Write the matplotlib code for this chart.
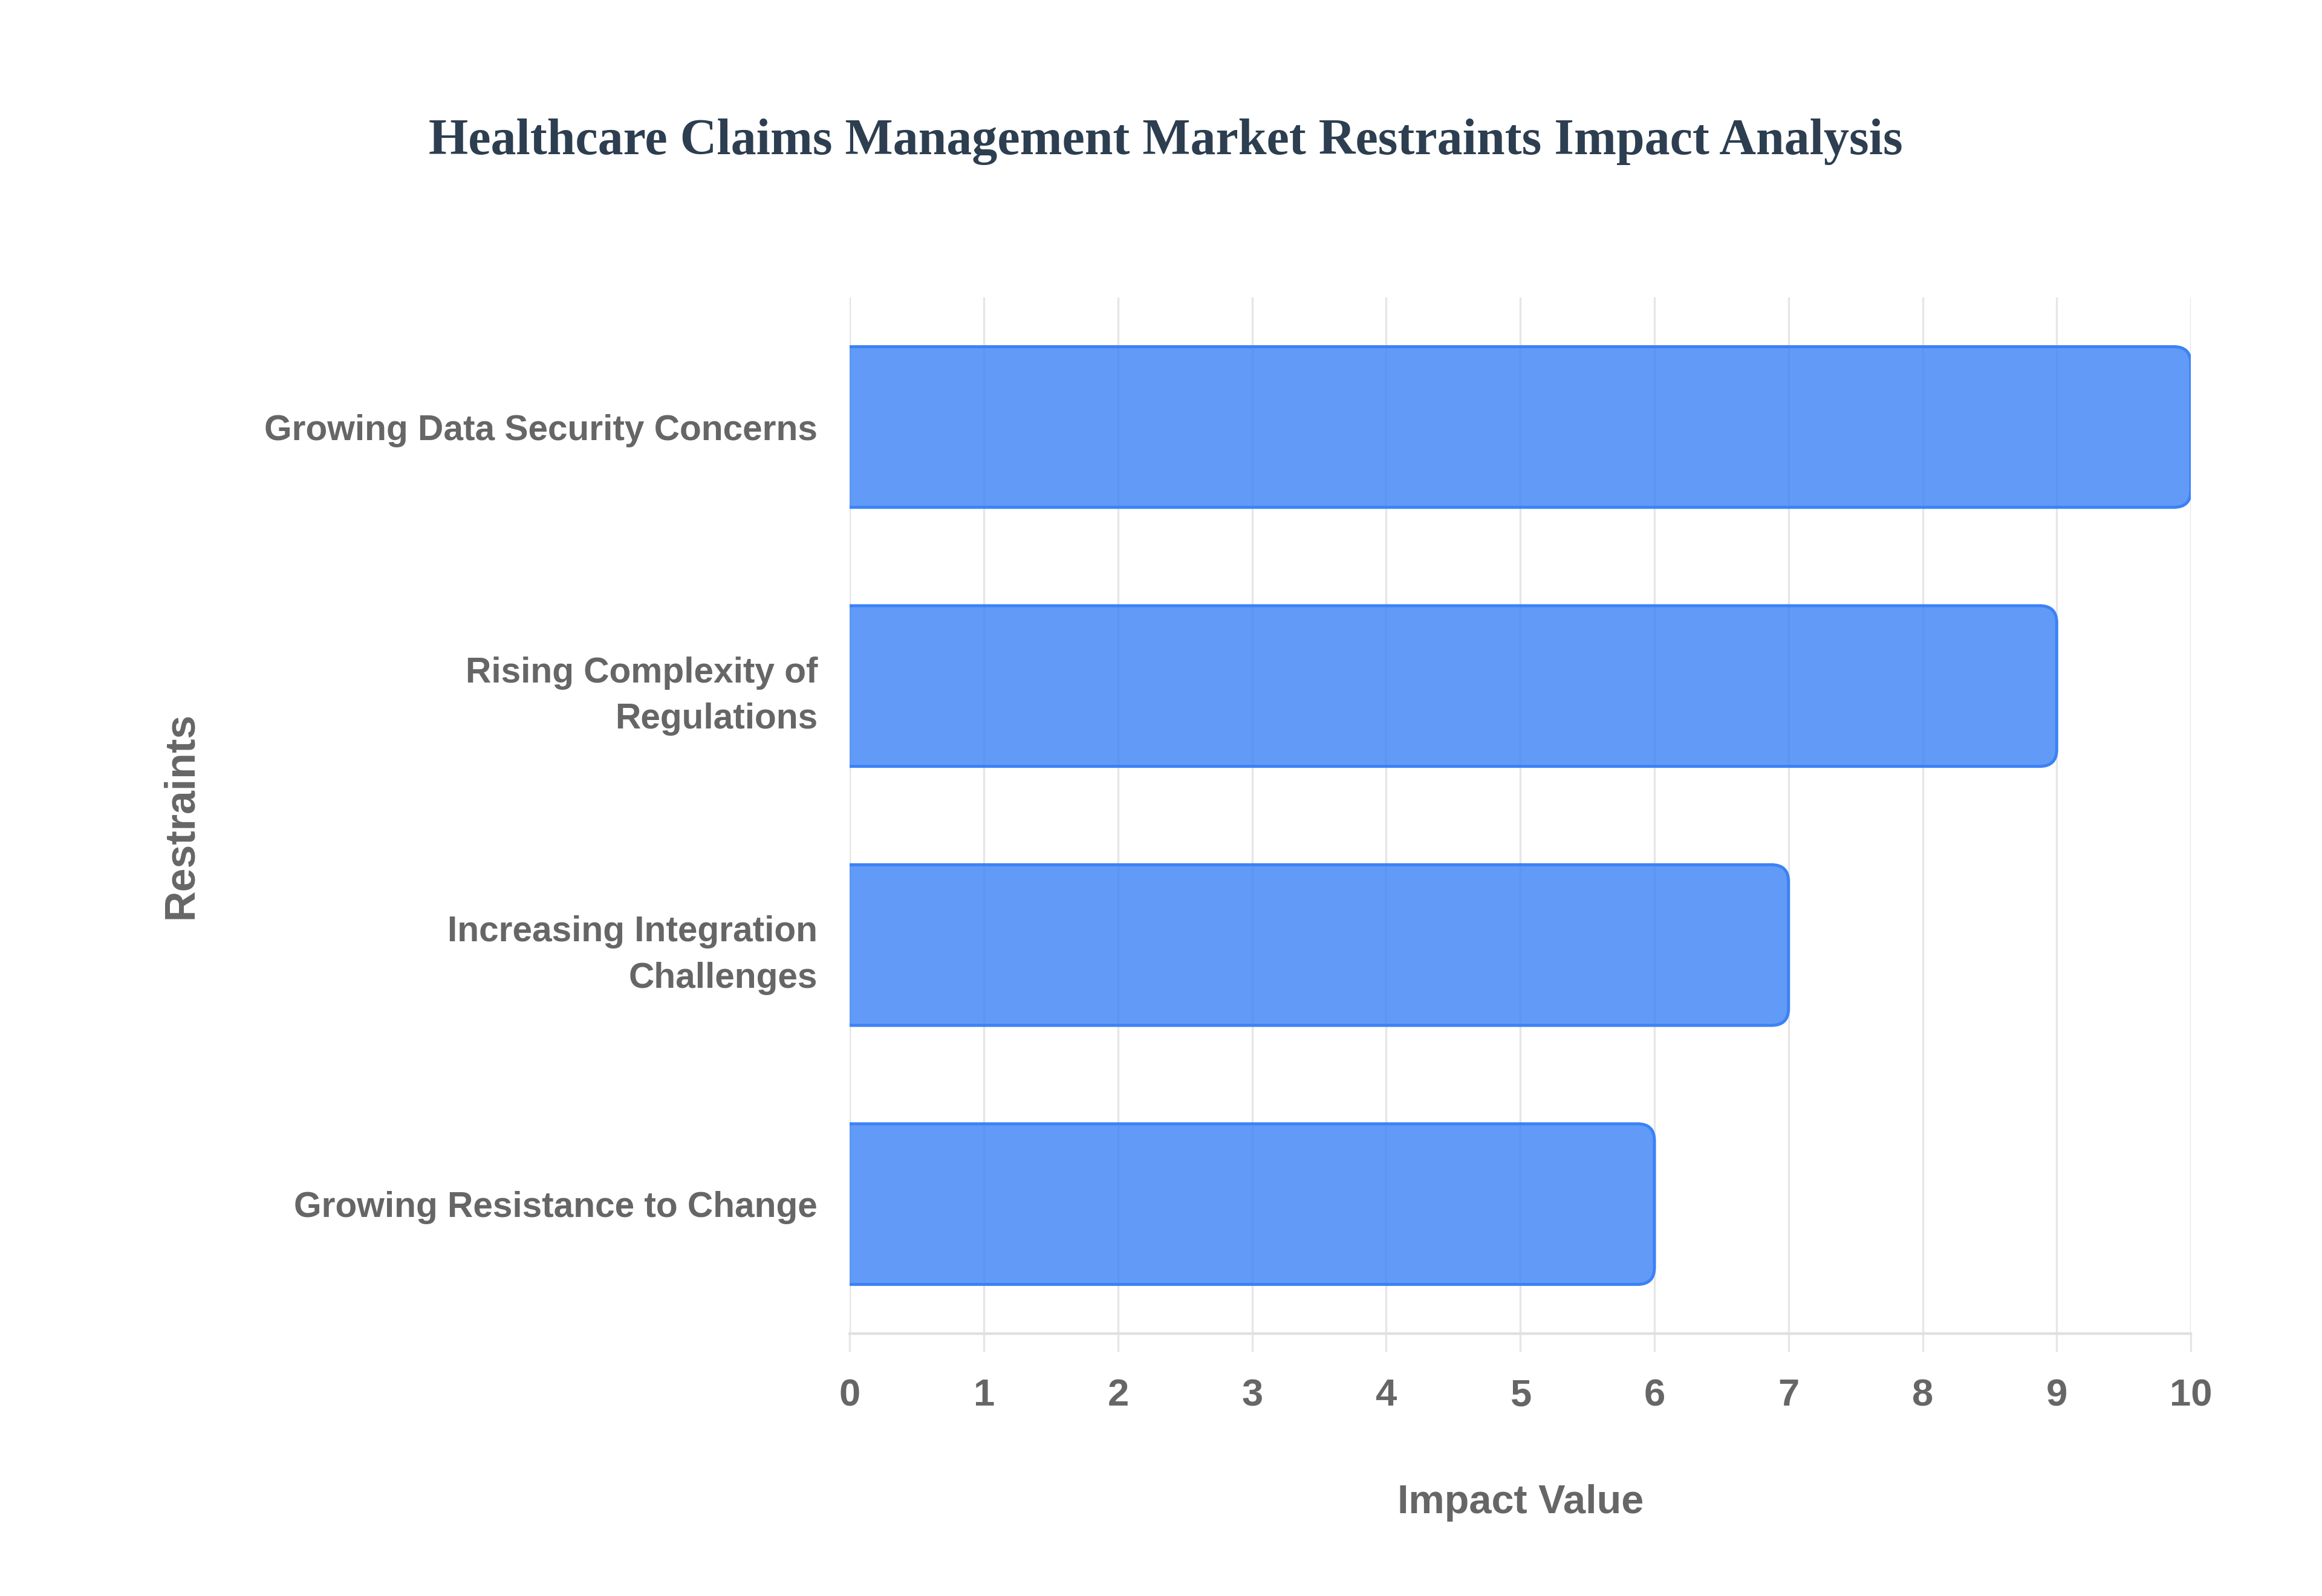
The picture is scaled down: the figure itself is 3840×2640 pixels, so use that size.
import matplotlib
matplotlib.use("Agg")
import matplotlib.pyplot as plt
from matplotlib.patches import FancyBboxPatch

# --- data ---
restraints = [
    "Growing Data Security Concerns",
    "Rising Complexity of\nRegulations",
    "Increasing Integration\nChallenges",
    "Growing Resistance to Change",
]
impact = [10, 9, 7, 6]
x_ticks = list(range(0, 11))

# --- style ---
TITLE_COLOR = "#2c3e50"
LABEL_COLOR = "#666666"
BAR_FACE = (59 / 255, 130 / 255, 246 / 255, 0.8)
BAR_EDGE = (59 / 255, 130 / 255, 246 / 255, 1.0)
GRID_COLOR = "#e6e6e6"
SANS = ["Liberation Sans", "DejaVu Sans"]
SERIF = ["Liberation Serif", "DejaVu Serif"]

fig = plt.figure(figsize=(16, 11), dpi=240)
ax = fig.add_axes([0.366, 0.1644, 0.5775, 0.6492])

ypos = list(range(len(restraints)))
bars = ax.barh(ypos, impact, height=0.62, color=BAR_FACE, edgecolor=BAR_EDGE,
               linewidth=1.5, zorder=3)

ax.set_xlim(0, 10)
ax.set_ylim(len(restraints) - 0.5, -0.5)
ax.set_xticks(x_ticks)
ax.set_yticks(ypos)
ax.set_yticklabels(restraints)

# swap plain bars for ones with rounded right corners
fig.canvas.draw()
(x0, y0), (x1, y1) = ax.transData.transform([(0, 0), (1, 1)])
px_x = abs(x1 - x0)
px_y = abs(y1 - y0)
radius_px = 28
r_x = radius_px / px_x
aspect = px_x / px_y
for bar in bars:
    bx, by = bar.get_x(), bar.get_y()
    bw, bh = bar.get_width(), bar.get_height()
    patch = FancyBboxPatch((bx - 2 * r_x, by), bw + 2 * r_x, bh,
                           boxstyle=f"round,pad=0,rounding_size={r_x}",
                           mutation_aspect=aspect,
                           facecolor=BAR_FACE, edgecolor=BAR_EDGE,
                           linewidth=1.5, zorder=3)
    ax.add_patch(patch)
    bar.remove()

# grid / spines
ax.grid(axis="x", color=GRID_COLOR, linewidth=1.0, zorder=0)
ax.grid(axis="y", visible=False)
for side in ["top", "right", "left"]:
    ax.spines[side].set_visible(False)
ax.spines["bottom"].set_color("#e0e0e0")
ax.spines["bottom"].set_linewidth(1.3)
ax.axvline(0, color="#dcdcdc", linewidth=1.0, zorder=1)

ax.tick_params(axis="x", length=9, width=1.0, color=GRID_COLOR, pad=13,
               labelsize=19, labelcolor=LABEL_COLOR)
ax.tick_params(axis="y", length=0, pad=16, labelsize=17.6, labelcolor=LABEL_COLOR)
for lab in ax.get_xticklabels() + ax.get_yticklabels():
    lab.set_family(SANS)
    lab.set_fontweight("bold")
for lab in ax.get_yticklabels():
    lab.set_linespacing(1.5)

ax.set_xlabel("Impact Value", fontsize=20, fontweight="bold", color=LABEL_COLOR,
              family=SANS, labelpad=35)
fig.text(0.078, 0.489, "Restraints", rotation=90, fontsize=21, fontweight="bold",
         color=LABEL_COLOR, family=SANS, ha="center", va="center")

fig.text(0.502, 0.911, "Healthcare Claims Management Market Restraints Impact Analysis",
         fontsize=25.2, fontweight="bold", color=TITLE_COLOR, family=SERIF,
         ha="center", va="center")

fig.savefig("out.png", dpi=240, facecolor="white")
